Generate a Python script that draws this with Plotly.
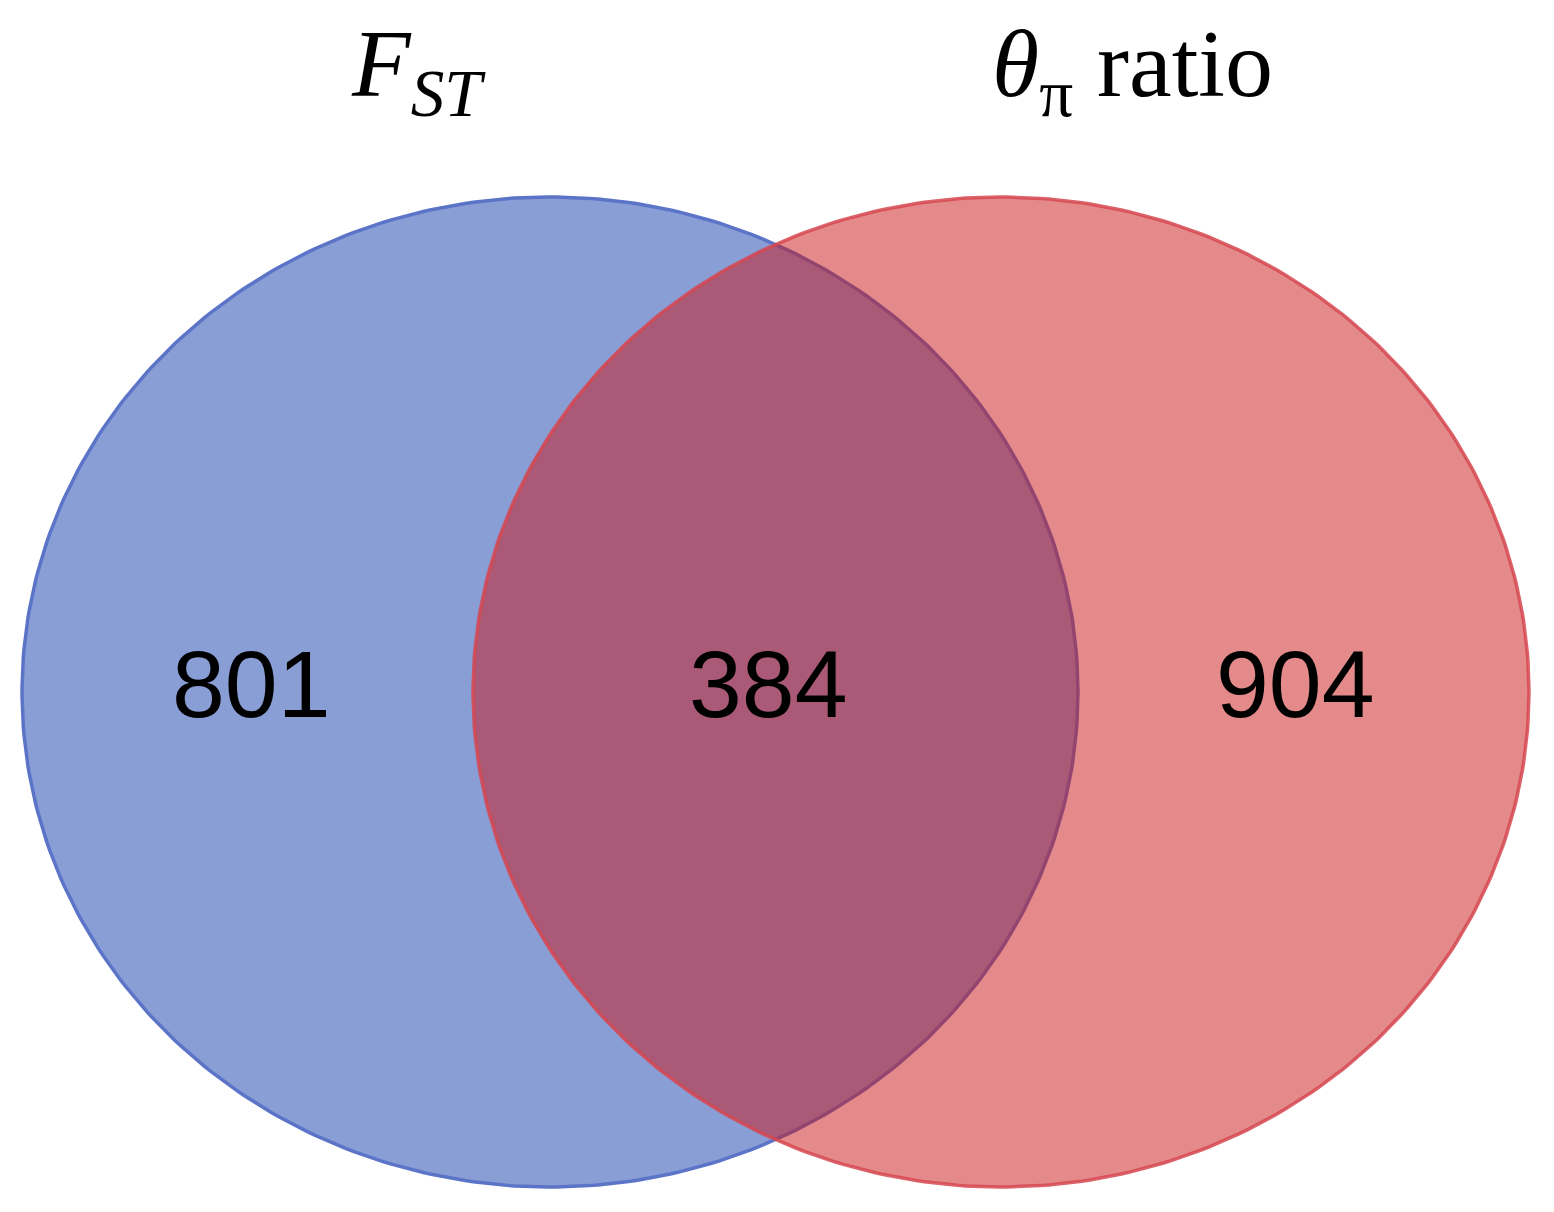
import numpy as np
import plotly.graph_objects as go

# ── Venn data ────────────────────────────────────────────────────────────────
set_titles = ["<i>F</i><sub><i>ST</i></sub>", "<i>θ</i><sub>π</sub> ratio"]
region_counts = [801, 384, 904]          # only FST, both, only θπ ratio

# ellipse geometry in page pixels (origin top-left)
centers_x = [550, 1001]
center_y = 692
radius_x = 528
radius_y = 495

fills = ["rgb(138,158,214)", "rgba(201,22,24,0.5)"]
lines = ["rgb(92,116,200)", "rgba(214,70,80,0.85)"]

W, H = 1554, 1212
OFF = 8   # page body margin, so axis units line up with page pixels

fig = go.Figure()
t = np.linspace(0, 2 * np.pi, 400)
for cx, fc, lc in zip(centers_x, fills, lines):
    fig.add_trace(go.Scatter(
        x=cx + radius_x * np.cos(t),
        y=center_y + radius_y * np.sin(t),
        mode="lines", fill="toself",
        fillcolor=fc, line=dict(color=lc, width=3.5),
        hoverinfo="skip", showlegend=False,
    ))

# region counts
label_x = [251, 768, 1295]
for lx, v in zip(label_x, region_counts):
    fig.add_annotation(
        x=lx, y=center_y - 8, text=str(v), showarrow=False,
        font=dict(family="Liberation Sans, Arial, sans-serif", size=95, color="black"),
        xanchor="center", yanchor="middle",
    )

# set titles (box pinned to the top edge so nothing spills off the page)
title_x = [418, 1132]
for tx, txt in zip(title_x, set_titles):
    fig.add_annotation(
        x=tx, y=1, yref="paper", text=txt, showarrow=False,
        font=dict(family="Liberation Serif, Times New Roman, serif", size=96, color="black"),
        xanchor="center", yanchor="top",
    )

fig.update_layout(
    width=W, height=H,
    margin=dict(l=0, r=0, t=0, b=0),
    paper_bgcolor="white", plot_bgcolor="white",
    xaxis=dict(range=[OFF, W + OFF], visible=False, fixedrange=True),
    yaxis=dict(range=[H + OFF, OFF], visible=False, fixedrange=True),
)

fig.write_html("out.html")
